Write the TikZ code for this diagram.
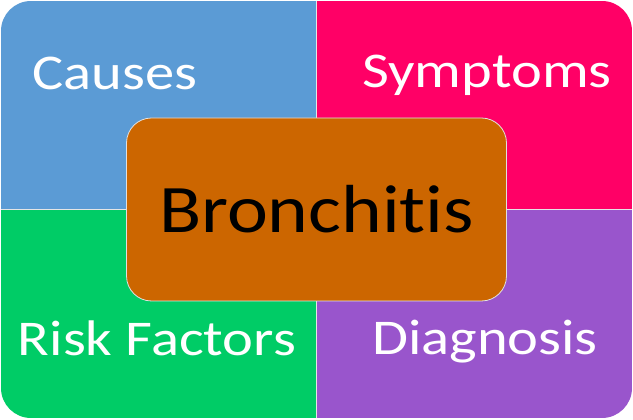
\documentclass[tikz,border=0pt]{standalone}
\usepackage{fontspec}
\setmainfont{Carlito}[Ligatures = NoCommon]
\usepackage{xcolor}
\definecolor{blu}{HTML}{5B9BD5}
\definecolor{rosa}{HTML}{FF0066}
\definecolor{verde}{HTML}{00CC66}
\definecolor{viola}{HTML}{9955CC}
\definecolor{arancio}{HTML}{CC6600}
\newcommand{\allarga}[1]{\scalebox{1.17}[1]{#1}}
\begin{document}
\begin{tikzpicture}[x = 1pt, y = 1pt,
    etichetta/.style = {text = white, anchor = base, inner sep = 0pt, font = \fontsize{50}{60}\selectfont},
    centrale/.style = {fill = arancio, draw = black!12, line width = 0.8pt, rounded corners = 25pt, minimum width = 380pt, minimum height = 183pt, font = \fontsize{68}{80}\selectfont}]
    % Parametri
    \pgfmathsetmacro{\xmin}{1}
    \pgfmathsetmacro{\xmax}{632}
    \pgfmathsetmacro{\ymin}{2}
    \pgfmathsetmacro{\ymax}{419}
    \pgfmathsetmacro{\xm}{316.5}
    \pgfmathsetmacro{\ym}{210.5}
    \pgfmathsetmacro{\raggio}{30}
    % Sfondo
    \fill[white] (0,0) rectangle (633,420);
    \useasboundingbox (0,0) rectangle (633,420);
    % Quadranti
    \begin{scope}
        \clip[rounded corners = \raggio pt] (\xmin,\ymin) rectangle (\xmax,\ymax);
        \fill[blu] (\xmin,\ym) rectangle (\xm,\ymax);
        \fill[rosa] (\xm,\ym) rectangle (\xmax,\ymax);
        \fill[verde] (\xmin,\ymin) rectangle (\xm,\ym);
        \fill[viola] (\xm,\ymin) rectangle (\xmax,\ym);
    \end{scope}
    % Bordi tra i quadranti
    \draw[black!10, line width = 0.6pt] (\xm,\ymin) -- (\xm,\ymax);
    \draw[black!10, line width = 0.6pt] (\xmin,\ym) -- (\xmax,\ym);
    % Nodo centrale
    \node[centrale] (bronchite) at (\xm,\ym) {\scalebox{1.14}[1]{Bronchitis}};
    % Etichette
    \node[etichetta] (cause) at (115,330) {\allarga{Causes}};
    \node[etichetta] (sintomi) at (487,332) {\allarga{Symptoms}};
    \node[etichetta] (rischio) at (157,64) {\allarga{Risk Factors}};
    \node[etichetta] (diagnosi) at (485,65) {\allarga{Diagnosis}};
\end{tikzpicture}
\end{document}
